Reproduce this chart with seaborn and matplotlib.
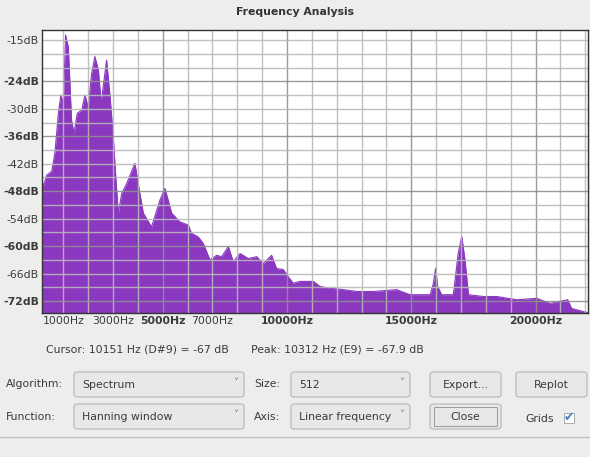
import matplotlib
matplotlib.use("Agg")
import matplotlib.pyplot as plt
import seaborn as sns
import pandas as pd
from matplotlib.patches import FancyBboxPatch, Rectangle

freq_khz = [0.13,0.19,0.33,0.53,0.66,0.8,0.9,1.0,1.09,1.2,1.33,1.43,1.56,1.74,1.87,2.0,2.14,2.27,2.41,2.52,
            2.74,2.88,3.01,3.1,3.21,3.35,3.55,3.88,4.08,4.22,4.55,4.89,5.09,5.36,5.69,6.03,6.16,6.43,6.63,6.9,
            7.17,7.37,7.64,7.84,8.11,8.44,8.78,9.05,9.38,9.58,9.85,10.05,10.25,10.52,11.06,11.33,11.73,12.13,
            12.8,13.47,14.41,14.95,15.76,15.89,15.98,16.06,16.22,16.69,16.89,17.03,17.16,17.3,17.9,18.44,
            19.25,20.05,20.58,21.29,21.45,21.93,22.1]
level_db = [-44.8,-47,-44.5,-43.7,-39.7,-31,-27,-28.8,-13.9,-16.5,-32.5,-35.4,-31,-30.3,-27,-29.6,-22.3,-18.6,-21.5,-28.8,
            -19.4,-27.4,-36.1,-44.1,-52.8,-48.5,-46.3,-41.9,-48.5,-52.8,-55.8,-49.9,-47.4,-52.8,-54.7,-55.4,-57.2,-58,-59.4,-63,
            -62,-62.3,-60.1,-63.4,-61.6,-62.7,-62.3,-63.8,-62,-64.9,-65.1,-66.7,-68.1,-67.7,-67.7,-68.8,-69.2,-69.4,
            -69.9,-69.9,-69.5,-70.6,-70.6,-68.1,-64.8,-68.8,-70.6,-70.6,-61.5,-57.9,-63,-70.6,-71,-71,
            -71.7,-71.4,-72.5,-71.7,-73.6,-74.3,-74.5]
ytick_vals = [-15,-24,-30,-36,-42,-48,-54,-60,-66,-72]
xtick_vals = [1000,3000,5000,7000,10000,15000,20000]

df = pd.DataFrame({"f": [v*1000 for v in freq_khz], "db": level_db})

sns.set_style("white")
plt.rcParams['font.family'] = ['DejaVu Sans']
BG = "#ededed"
TXT = "#3a3a3a"
FS = 7.8
fig = plt.figure(figsize=(5.9, 4.57), dpi=100, facecolor=BG)
W, H = 590, 457
ax = fig.add_axes([41.7/W, 1-313/H, (588-41.7)/W, (313-30)/H])
ymin, ymax = -74.6, -12.8
xmin, xmax = 130, 22110
ax.set_xlim(xmin, xmax); ax.set_ylim(ymin, ymax)
ax.set_facecolor("white")
ax.fill_between(df["f"], df["db"], ymin, color="#8a38c0", lw=0, zorder=1)
sns.lineplot(data=df, x="f", y="db", ax=ax, color="#8a38c0", lw=0.8, zorder=2)
for f in range(1000, 22001, 1000):
    major = f in (5000, 10000, 15000, 20000)
    ax.axvline(f, color="#8f8f8f" if major else "#b8b8b8", lw=1.0, zorder=3, alpha=0.9)
y = -72
while y <= -13:
    major = (y % 12 == 0)
    ax.axhline(y, color="#8f8f8f" if major else "#b8b8b8", lw=1.0, zorder=3, alpha=0.9)
    y += 3
ax.set_xlabel(""); ax.set_ylabel("")
ax.set_xticks(xtick_vals)
ax.set_xticklabels([f"{v}Hz" for v in xtick_vals], fontsize=FS, color=TXT)
for t, v in zip(ax.get_xticklabels(), xtick_vals):
    if v % 5000 == 0: t.set_fontweight("bold")
ax.set_yticks(ytick_vals)
ax.set_yticklabels([f"{v}dB" for v in ytick_vals], fontsize=FS, color=TXT)
for t, v in zip(ax.get_yticklabels(), ytick_vals):
    if v % 12 == 0: t.set_fontweight("bold")
ax.tick_params(length=0, pad=2)
for s in ax.spines.values():
    s.set_color("#333333"); s.set_linewidth(1); s.set_zorder(4)

def px(x, y): return x/W, 1-y/H
fig.text(*px(295, 12), "Frequency Analysis", ha="center", va="center", fontsize=FS, fontweight="bold", color="#333")
fig.text(*px(46, 349), "Cursor: 10151 Hz (D#9) = -67 dB", ha="left", va="center", fontsize=FS, color=TXT)
fig.text(*px(251, 349), "Peak: 10312 Hz (E9) = -67.9 dB", ha="left", va="center", fontsize=FS, color=TXT)

def box(x0, y0, x1, y1, text, combo=False, center=False, inner=False):
    p = FancyBboxPatch(px(x0, y1), (x1-x0)/W, (y1-y0)/H, boxstyle="round,pad=0,rounding_size=0.006",
                       transform=fig.transFigure, fc="#e8e8e8", ec="#b5b5b5", lw=0.8)
    fig.patches.append(p)
    if inner:
        fig.patches.append(Rectangle(px(x0+4, y1-3), (x1-x0-8)/W, (y1-y0-6)/H, transform=fig.transFigure,
                                     fc="none", ec="#9a9a9a", lw=0.7))
    yc = (y0+y1)/2
    if center:
        fig.text(*px((x0+x1)/2, yc), text, ha="center", va="center", fontsize=FS, color=TXT)
    else:
        fig.text(*px(x0+8, yc), text, ha="left", va="center", fontsize=FS, color=TXT)
    if combo:
        fig.text(*px(x1-8, yc-2), "\u02c5", ha="center", va="center", fontsize=7, color="#777")

fig.text(*px(6, 384), "Algorithm:", ha="left", va="center", fontsize=FS, color=TXT)
fig.text(*px(6, 417), "Function:", ha="left", va="center", fontsize=FS, color=TXT)
fig.text(*px(254, 384), "Size:", ha="left", va="center", fontsize=FS, color=TXT)
fig.text(*px(254, 417), "Axis:", ha="left", va="center", fontsize=FS, color=TXT)
box(74, 372, 244, 397, "Spectrum", combo=True)
box(74, 404, 244, 429, "Hanning window", combo=True)
box(291, 372, 410, 397, "512", combo=True)
box(291, 404, 410, 429, "Linear frequency", combo=True)
box(430, 372, 501, 397, "Export...", center=True)
box(430, 404, 501, 429, "Close", center=True, inner=True)
box(516, 372, 587, 397, "Replot", center=True)
fig.text(*px(525, 419), "Grids", ha="left", va="center", fontsize=FS, color=TXT)
fig.patches.append(Rectangle(px(564, 423), 10/W, 10/H, transform=fig.transFigure, fc="white", ec="#aaa", lw=0.7))
fig.text(*px(569, 417), "\u2714", ha="center", va="center", fontsize=9, color="#4a7fc8")
fig.lines.append(plt.Line2D([0, 1], [1-437/H]*2, transform=fig.transFigure, color="#c0c0c0", lw=1))

fig.savefig("out.png", dpi=100, facecolor=BG)
